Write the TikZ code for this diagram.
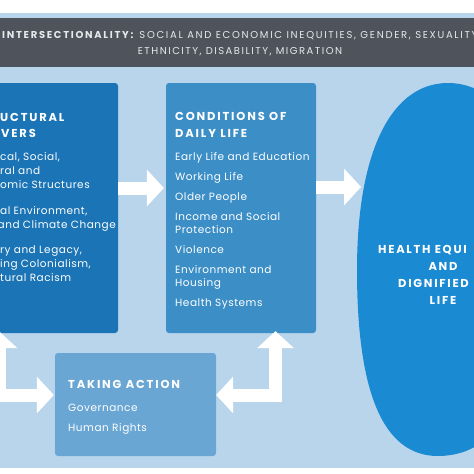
\documentclass[tikz,border=0pt]{standalone}
\usepackage{fontspec}
\setmainfont{Poppins}
\usetikzlibrary{arrows.meta,calc}
\definecolor{bgblue}{HTML}{B8D5EC}
\definecolor{bandgray}{HTML}{4E535C}
\definecolor{sdblue}{HTML}{1B74B6}
\definecolor{cdblue}{HTML}{3C8EC7}
\definecolor{tablue}{HTML}{6AA6D3}
\definecolor{heblue}{HTML}{1A8AD2}
\definecolor{bandtext}{HTML}{E6E8EA}
\tikzset{
  box/.style={rectangle, rounded corners=3pt, inner sep=0pt},
  item/.style={anchor=base west, inner sep=0pt, text=white, font=\fontsize{10.5}{12}\selectfont\addfontfeatures{LetterSpace=5}},
  head/.style={anchor=base west, inner sep=0pt, text=white, font=\fontsize{11.5}{13}\selectfont\bfseries\addfontfeatures{LetterSpace=16}},
  hetext/.style={inner sep=0pt, text=white, font=\fontsize{11.5}{13}\selectfont\bfseries\addfontfeatures{LetterSpace=15}},
  bandtxt/.style={inner sep=0pt, text=bandtext, font=\fontsize{10}{12}\selectfont\addfontfeatures{LetterSpace=15}},
  bandtxtw/.style={inner sep=0pt, text=bandtext, font=\fontsize{10}{12}\selectfont\addfontfeatures{LetterSpace=17}},
  fat/.style={draw=white, line width=13pt, line join=miter,
    -{Triangle[width=37pt,length=17pt,line width=0pt]}},
  fatboth/.style={draw=white, line width=13pt, line join=miter,
    {Triangle[width=37pt,length=17pt,line width=0pt]}-{Triangle[width=37pt,length=17pt,line width=0pt]}},
}
\begin{document}
\begin{tikzpicture}[x=1pt,y=-1pt]
\useasboundingbox (0,0) rectangle (474,474);
\clip (0,0) rectangle (474,474);
\fill[white] (0,0) rectangle (474,474);
\fill[bgblue] (0,13) rectangle (474,468);
% band
\node[fill=bandgray, minimum width=474pt, minimum height=49pt, inner sep=0pt] (band) at (237,42.5) {};
\node[bandtxtw, anchor=base west] (bt1) at (2,38.5) {\textbf{INTERSECTIONALITY:} SOCIAL AND ECONOMIC INEQUITIES, GENDER, SEXUALITY};
\node[bandtxt, anchor=base] (bt2) at (240,54) {ETHNICITY, DISABILITY, MIGRATION};
% boxes
\node[box, fill=sdblue, minimum width=128pt, minimum height=250pt] (sd) at (54,208) {};
\node[box, fill=cdblue, minimum width=150pt, minimum height=250pt] (cd) at (241,208) {};
\node[box, fill=tablue, minimum width=161pt, minimum height=103pt] (ta) at (135.5,404.5) {};
% health equity shape
\fill[heblue] (357,270) .. controls (357,150) and (392,83) .. (448,83)
  .. controls (505,83) and (540,150) .. (540,270)
  .. controls (540,390) and (500,456) .. (438,456)
  .. controls (382,456) and (357,390) .. (357,270) -- cycle;
\coordinate (heL) at (361,187);
% structural drivers text
\node[head] (sdh1) at (0,121) {UCTURAL};
\node[head] (sdh2) at (1,137) {VERS};
\node[item] (sd1) at (0,160) {cal, Social,};
\node[item] (sd2) at (0,174) {ral and};
\node[item] (sd3) at (0,188) {omic Structures};
\node[item] (sd4) at (0,214.5) {al Environment,};
\node[item, anchor=base east] (sd5) at (116,228.5) {and Climate Change};
\node[item] (sd6) at (0,253.5) {ry and Legacy,};
\node[item] (sd7) at (0,267.5) {ing Colonialism,};
\node[item] (sd8) at (0,281.5) {tural Racism};
% conditions text
\node[head] (cdh1) at (175,120) {CONDITIONS OF};
\node[head] (cdh2) at (175,137) {DAILY LIFE};
\node[item] (cd1) at (175,160.5) {Early Life and Education};
\node[item] (cd2) at (175,180.5) {Working Life};
\node[item] (cd3) at (175,200.5) {Older People};
\node[item] (cd4) at (175,220.5) {Income and Social};
\node[item] (cd5) at (175,233.5) {Protection};
\node[item] (cd6) at (175,253.5) {Violence};
\node[item] (cd7) at (175,273.5) {Environment and};
\node[item] (cd8) at (175,286.5) {Housing};
\node[item] (cd9) at (175,306.5) {Health Systems};
% taking action text
\node[head] (tah) at (68,388) {TAKING ACTION};
\node[item] (ta1) at (68,411.5) {Governance};
\node[item] (ta2) at (68,431) {Human Rights};
% health equity text
\node[hetext, anchor=base west] (he1) at (378,253) {HEALTH EQUI};
\node[hetext, anchor=base] (he2) at (443,270) {AND};
\node[hetext, anchor=base west] (he3) at (398,287) {DIGNIFIED};
\node[hetext, anchor=base] (he4) at (443,304) {LIFE};
% arrows
\coordinate (y1) at (0,188);
\coordinate (lc) at (-1,395);
\coordinate (rc) at (275.5,395);
\draw[fat] (sd.east |- y1) -- ([xshift=-2pt]cd.west |- y1);
\draw[fat] (cd.east |- heL) -- (heL);
\draw[fatboth] ([yshift=2pt]lc |- sd.south) |- ([xshift=-1pt]ta.west |- lc);
\draw[fatboth] ([yshift=2pt]rc |- cd.south) |- (ta.east |- rc);
\end{tikzpicture}
\end{document}
